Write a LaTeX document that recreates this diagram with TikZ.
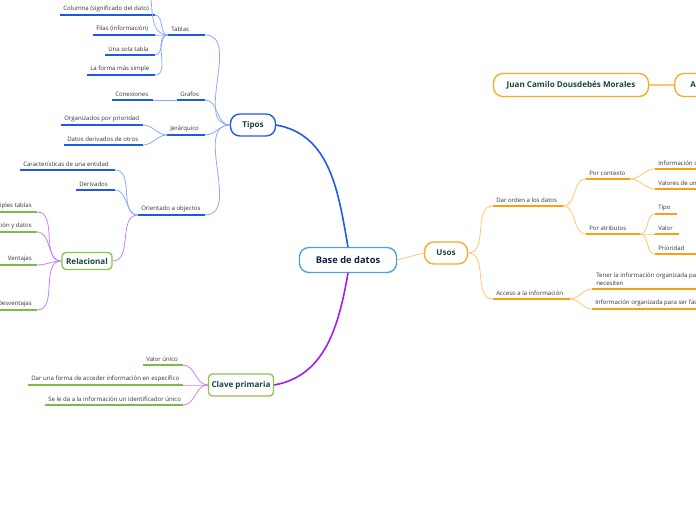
\documentclass[tikz,border=0pt]{standalone}
\usepackage{fontspec}
\setmainfont{Open Sans}
\begin{document}
\begin{tikzpicture}[x=0.75pt,y=-0.75pt,
  lbl/.style={anchor=south west,inner sep=0pt,font=\fontsize{4.55}{6.2}\selectfont,text=black!80},
  lblr/.style={anchor=south east,inner sep=0pt,font=\fontsize{4.55}{6.2}\selectfont,text=black!80},
  title/.style={draw,rounded corners=7pt,line width=1pt,fill=white,font=\bfseries\fontsize{6.05}{7}\selectfont,text={rgb,255:red,20;green,70;blue,60},inner sep=0pt},
  bl/.style={draw={rgb,255:red,140;green,170;blue,250},line width=0.6pt},
  bu/.style={draw={rgb,255:red,30;green,90;blue,230},line width=1.2pt},
  ol/.style={draw={rgb,255:red,252;green,200;blue,110},line width=0.6pt},
  ou/.style={draw={rgb,255:red,250;green,160;blue,20},line width=1.2pt},
  pl/.style={draw={rgb,255:red,200;green,130;blue,245},line width=0.6pt},
  gu/.style={draw={rgb,255:red,120;green,190;blue,70},line width=1.2pt}]
\useasboundingbox (0,0) rectangle (696,520);
\newcommand\tp[6]{\coordinate (#1L) at (#2,#4); \coordinate (#1R) at (#3,#4);
  \draw[#5] (#1L) -- (#1R);
  \node[lbl] (#1) at (#2+3,#4-3) {#6};}
% root and main
\node[title,draw={rgb,255:red,80;green,160;blue,225},minimum width=97pt*0.75,minimum height=25pt*0.75,text={rgb,255:red,20;green,30;blue,70},font=\bfseries\fontsize{7}{8}\selectfont] (root) at (348,260) {Base de datos};
\node[title,draw={rgb,255:red,30;green,90;blue,230},minimum width=45pt*0.75,minimum height=22pt*0.75] (tipos) at (253,125) {Tipos};
\node[title,draw={rgb,255:red,250;green,170;blue,40},minimum width=43pt*0.75,minimum height=22pt*0.75] (usos) at (446,253) {Usos};
\node[title,draw={rgb,255:red,140;green,195;blue,80},minimum width=50pt*0.75,minimum height=17pt*0.75,rounded corners=3pt] (rel) at (87,261) {Relacional};
\node[title,draw={rgb,255:red,140;green,195;blue,80},minimum width=65pt*0.75,minimum height=22pt*0.75,rounded corners=3pt] (clave) at (241,385) {Clave primaria};
\node[title,draw={rgb,255:red,250;green,170;blue,40},minimum width=155pt*0.75,minimum height=23pt*0.75] (juan) at (571,85) {Juan Camilo Dousdebés Morales};
\node[title,draw={rgb,255:red,250;green,170;blue,40},minimum width=60pt*0.75,minimum height=23pt*0.75,anchor=west,text width=50pt*0.75,align=left] (ac) at (674,85) {\hspace*{8pt}Ac};
\draw[ol,line width=1.2pt] (juan.east) -- (ac.west);
% root connectors
\draw[draw={rgb,255:red,30;green,90;blue,240},line width=1.2pt] (root.north) to[out=100,in=-10] (tipos.east);
\draw[draw={rgb,255:red,160;green,30;blue,240},line width=1.2pt] (root.south) to[out=-100,in=10] (clave.east);
\draw[ol] (root.east) -- (usos.west);
% Tipos branch
\tp{tab}{168}{205}{35}{bu}{Tablas}
\tp{gra}{177}{205}{100}{bu}{Grafos}
\tp{jer}{167}{205}{135}{bu}{Jerárquico}
\tp{ori}{138}{205}{215}{bu}{Orientado a objectos}
\foreach \n in {tab,gra,jer,ori}{\draw[bl] (\n R) to[out=0,in=180] (tipos.west);}
\tp{col}{60}{155}{15}{bu}{Columna (significado del dato)}
\tp{fil}{93}{155}{35}{bu}{Filas (información)}
\tp{una}{105}{155}{55}{bu}{Una sola tabla}
\tp{sim}{87}{155}{75}{bu}{La forma más simple}
\coordinate (topx) at (150,-8);
\foreach \n in {col,fil,una,sim}{\draw[bl] (tabL) to[out=180,in=0] (\n R);}
\draw[bl] (tabL) to[out=180,in=-80] (topx);
\tp{con}{112}{153}{100}{bu}{Conexiones}
\draw[bl] (graL) -- (conR);
\tp{org}{61}{143}{125}{bu}{Organizados por prioridad}
\tp{dat}{64}{143}{145}{bu}{Datos derivados de otros}
\foreach \n in {org,dat}{\draw[bl] (jerL) to[out=180,in=0] (\n R);}
\tp{car}{20}{115}{170}{bu}{Características de una entidad}
\tp{der}{76}{115}{190}{bu}{Derivados}
\foreach \n in {car,der}{\draw[bl] (oriL) to[out=180,in=0] (\n R);}
\draw[pl] (oriL) to[out=180,in=0] (rel.east);
% Relacional children
\foreach \nm/\y/\t in {r1/212/Múltiples tablas,r2/232/Relación y datos,r3/265/Ventajas,r4/310/Desventajas}{
  \coordinate (\nm L) at (-10,\y); \coordinate (\nm R) at (37,\y);
  \draw[gu] (\nm L) -- (\nm R);
  \node[lblr] (\nm) at (32,\y-3) {\t};
  \draw[pl] (rel.west) to[out=180,in=0] (\nm R);}
\draw[pl] (r3L) -- (0,265);
% Clave primaria children
\tp{val}{143}{183}{365}{gu}{Valor único}
\tp{dar}{28}{183}{385}{gu}{Dar una forma de acceder información en específico}
\tp{sel}{45}{183}{405}{gu}{Se le da a la información un identificador único}
\foreach \n in {val,dar,sel}{\draw[pl] (clave.west) to[out=180,in=0] (\n R);}
% Usos branch
\tp{ord}{493}{563}{206}{ou}{Dar orden a los datos}
\tp{acc}{493}{570}{299}{ou}{Acceso a la información}
\foreach \n in {ord,acc}{\draw[ol] (usos.east) to[out=0,in=180] (\n L);}
\tp{pco}{586}{630}{179}{ou}{Por contexto}
\tp{pat}{586}{640}{234}{ou}{Por atributos}
\foreach \n in {pco,pat}{\draw[ol] (ordR) to[out=0,in=180] (\n L);}
\tp{inf}{655}{710}{169}{ou}{Información de un}
\tp{vdu}{655}{710}{189}{ou}{Valores de un}
\foreach \n in {inf,vdu}{\draw[ol] (pcoR) to[out=0,in=180] (\n L);}
\tp{tip}{655}{677}{214}{ou}{Tipo}
\tp{vlr}{655}{679}{234}{ou}{Valor}
\tp{pri}{655}{697}{254}{ou}{Prioridad}
\foreach \n in {tip,vlr,pri}{\draw[ol] (patR) to[out=0,in=180] (\n L);}
\coordinate (tenL) at (592,289); \coordinate (tenR) at (710,289);
\draw[ou] (tenL) -- (tenR);
\node[lbl,align=left] (ten) at (596,286) {Tener la información organizada para cuando se\\necesiten};
\tp{fac}{592}{710}{309}{ou}{Información organizada para ser fácil de acceder}
\foreach \n in {ten,fac}{\draw[ol] (accR) to[out=0,in=180] (\n L);}
\end{tikzpicture}
\end{document}
